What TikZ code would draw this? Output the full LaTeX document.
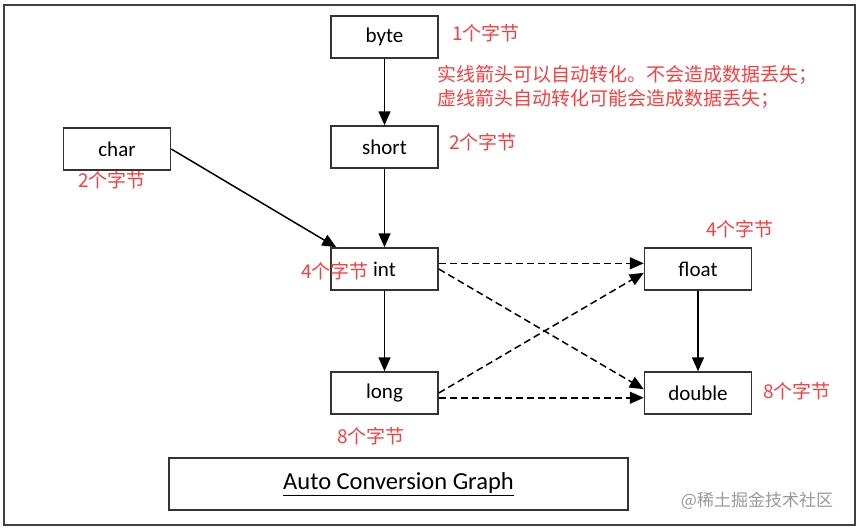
\documentclass[tikz,border=0pt]{standalone}
\usepackage{fontspec}
\setmainfont{Carlito}
\newfontfamily\cjk{Noto Sans CJK SC}
\usetikzlibrary{arrows.meta}
\definecolor{vermelho}{RGB}{250,62,62}
\tikzset{
caixa/.style = {draw=black!80, line width=1.5pt, minimum width=107pt, minimum height=42pt,
    inner sep=0pt, font=\fontsize{21}{24}\selectfont}
}
\tikzset{
seta/.style = {-{Triangle[length=14pt,width=12pt]}, line width=1.5pt}
}
\tikzset{
tracejada/.style = {seta, dash pattern=on 7pt off 4pt}
}
\tikzset{
rotulo/.style = {text=vermelho, inner sep=0pt, font=\cjk\fontsize{19}{24}\selectfont}
}
\begin{document}
\begin{tikzpicture}[x=1pt,y=-1pt]
        \useasboundingbox[fill=white] (0,0) rectangle (859,531);
        \draw[black!75, line width=1.6pt] (4,5) rectangle (855,525);

        % caixas
        \node[caixa] (byte) at (384.5,37) {byte};
        \node[caixa] (short) at (384.5,147) {short};
        \node[caixa] (char) at (117,149) {char};
        \node[caixa] (int) at (384.5,269) {int};
        \node[caixa] (float) at (698,269) {float};
        \node[caixa] (long) at (384.5,393) {long};
        \node[caixa] (double) at (698,393) {double};
        \node[caixa, minimum width=459pt, minimum height=52pt, font=\fontsize{24.5}{28}\selectfont]
            (grafo) at (398.5,484) {\underline{Auto Conversion Graph}};

        % tamanhos
        \node[rotulo] (rbyte) at (486,33) {1个字节};
        \node[rotulo, anchor=north west, align=left] (nota) at (437,65)
            {实线箭头可以自动转化。不会造成数据丢失；\\虚线箭头自动转化可能会造成数据丢失；};
        \node[rotulo] (rshort) at (483,142) {2个字节};
        \node[rotulo] (rchar) at (112,180) {2个字节};
        \node[rotulo] (rint) at (335,271) {4个字节};
        \node[rotulo] (rfloat) at (740,229) {4个字节};
        \node[rotulo] (rlong) at (371,436) {8个字节};
        \node[rotulo] (rdouble) at (797,391) {8个字节};
        \node[text=black!40, inner sep=0pt, font=\cjk\fontsize{17}{20}\selectfont] (marca) at (757,501) {@稀土掘金技术社区};

        % conversoes sem perda
        \draw[seta] (byte) -- (short);
        \draw[seta] (short) -- (int);
        \draw[seta] (int) -- (long);
        \draw[seta] (float) -- (double);
        \draw[seta] (char.east) -- ([xshift=6pt]int.north west);

        % conversoes com perda
        \draw[tracejada] (int.6) -- (float.174);
        \draw[tracejada] (int.east) -- (double.176);
        \draw[tracejada] (long.east) -- (float.-176);
        \draw[tracejada] (long.-5) -- (double.-175);
    \end{tikzpicture}
\end{document}
